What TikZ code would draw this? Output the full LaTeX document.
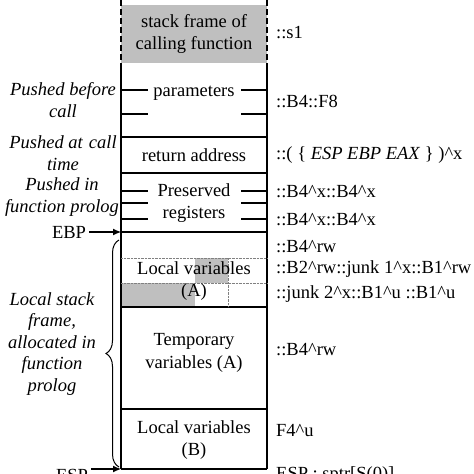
\documentclass[tikz,border=0pt]{standalone}
\usepackage{fontspec}
\setmainfont{Liberation Serif}
\usetikzlibrary{arrows.meta,decorations.pathreplacing}
\newcommand{\caret}{\textasciicircum}
\begin{document}
\begin{tikzpicture}[x=1pt,y=-1pt,
  every node/.style={font=\fontsize{18.5}{22.5}\selectfont},
  slot/.style={align=center},
  side/.style={align=center,font=\fontsize{18.5}{21.5}\selectfont\itshape},
  tag/.style={anchor=west,inner sep=0pt},
  wall/.style={line width=1.1pt},
  ptr/.style={line width=1.1pt,-{Latex[length=8pt,width=7pt]}}]
\useasboundingbox (0,0) rectangle (474,474);

% Stack frame of the caller
\fill[gray!50] (121,5) rectangle (267,63);
\draw[wall,dash pattern=on 6pt off 3pt] (121,0) -- (121,63);
\draw[wall,dash pattern=on 6pt off 3pt] (267,0) -- (267,63);

% Gray cells in local variables (A)
\fill[gray!50] (195,258) rectangle (228,283);
\fill[gray!50] (121,283) rectangle (195,307);

% Column walls and dividers
\draw[wall] (121,63) -- (121,469);
\draw[wall] (267,63) -- (267,469);
\foreach \y in {137,173,232,307,409,469}
{
\draw[wall] (121,\y) -- (267,\y);
}

% Short ticks between slots
\foreach \y in {90,114,191,203,219}
{
\draw[wall] (121,\y) -- (148,\y);
\draw[wall] (241,\y) -- (267,\y);
}

% Dotted cells
\draw[gray,densely dotted] (121,258) -- (267,258);
\draw[gray,densely dotted] (121,283) -- (267,283);
\draw[gray,densely dotted] (228,258) -- (228,307);

% Slot texts
\node[slot] (caller) at (194,34) {stack frame of\\calling function};
\node[slot,fill=white,inner ysep=1pt] (params) at (194,93) {parameters};
\node[slot] (retaddr) at (194,155) {return address};
\node[slot,fill=white,inner ysep=0pt] (saved) at (194,203) {Preserved\\registers};
\node[slot] (localA) at (194,281) {Local variables\\(A)};
\node[slot] (tempA) at (194,353) {Temporary\\variables (A)};
\node[slot] (localB) at (194,440) {Local variables\\(B)};

% Left annotations
\node[side] (before) at (63,100) {Pushed before\\call};
\node[side] (atcall) at (63,153) {Pushed at\,\,call\\time};
\node[side] (prolog) at (62,197) {Pushed in\\function prolog};
\node[side] (frame) at (52,344) {Local stack\\frame,\\allocated in\\function\\prolog};

% Frame pointers
\node (ebp) at (69,232) {EBP};
\node (esp) at (72,475) {ESP};
\coordinate (ebptop) at (121,232);
\coordinate (espbot) at (121,469);
\draw[ptr] (ebp) -- (ebptop);
\draw[ptr] (esp.east |- espbot) -- (espbot);
\coordinate (bracetop) at (119,240);
\coordinate (bracebot) at (119,467);
\draw[line width=1pt,decorate,decoration={brace,amplitude=13pt}] (bracebot) -- (bracetop);

% Right annotations
\node[tag] (s1) at (276,33) {::s1};
\node[tag] (f8) at (276,101) {::B4::F8};
\node[tag] (ret) at (276,155) {::( \{ \textit{ESP EBP EAX} \} )\caret x};
\node[tag] (reg1) at (276,192) {::B4\caret x::B4\caret x};
\node[tag] (reg2) at (276,220) {::B4\caret x::B4\caret x};
\node[tag] (la1) at (276,247) {::B4\caret rw};
\node[tag] (la2) at (276,269) {::B2\caret rw::junk 1\caret x::B1\caret rw};
\node[tag] (la3) at (276,294) {::junk 2\caret x::B1\caret u ::B1\caret u};
\node[tag] (ta) at (276,350) {::B4\caret rw};
\node[tag] (lb) at (276,430) {F4\caret u};
\node[tag] (sp) at (276,475) {ESP : sptr[S(0)]};

\end{tikzpicture}
\end{document}
